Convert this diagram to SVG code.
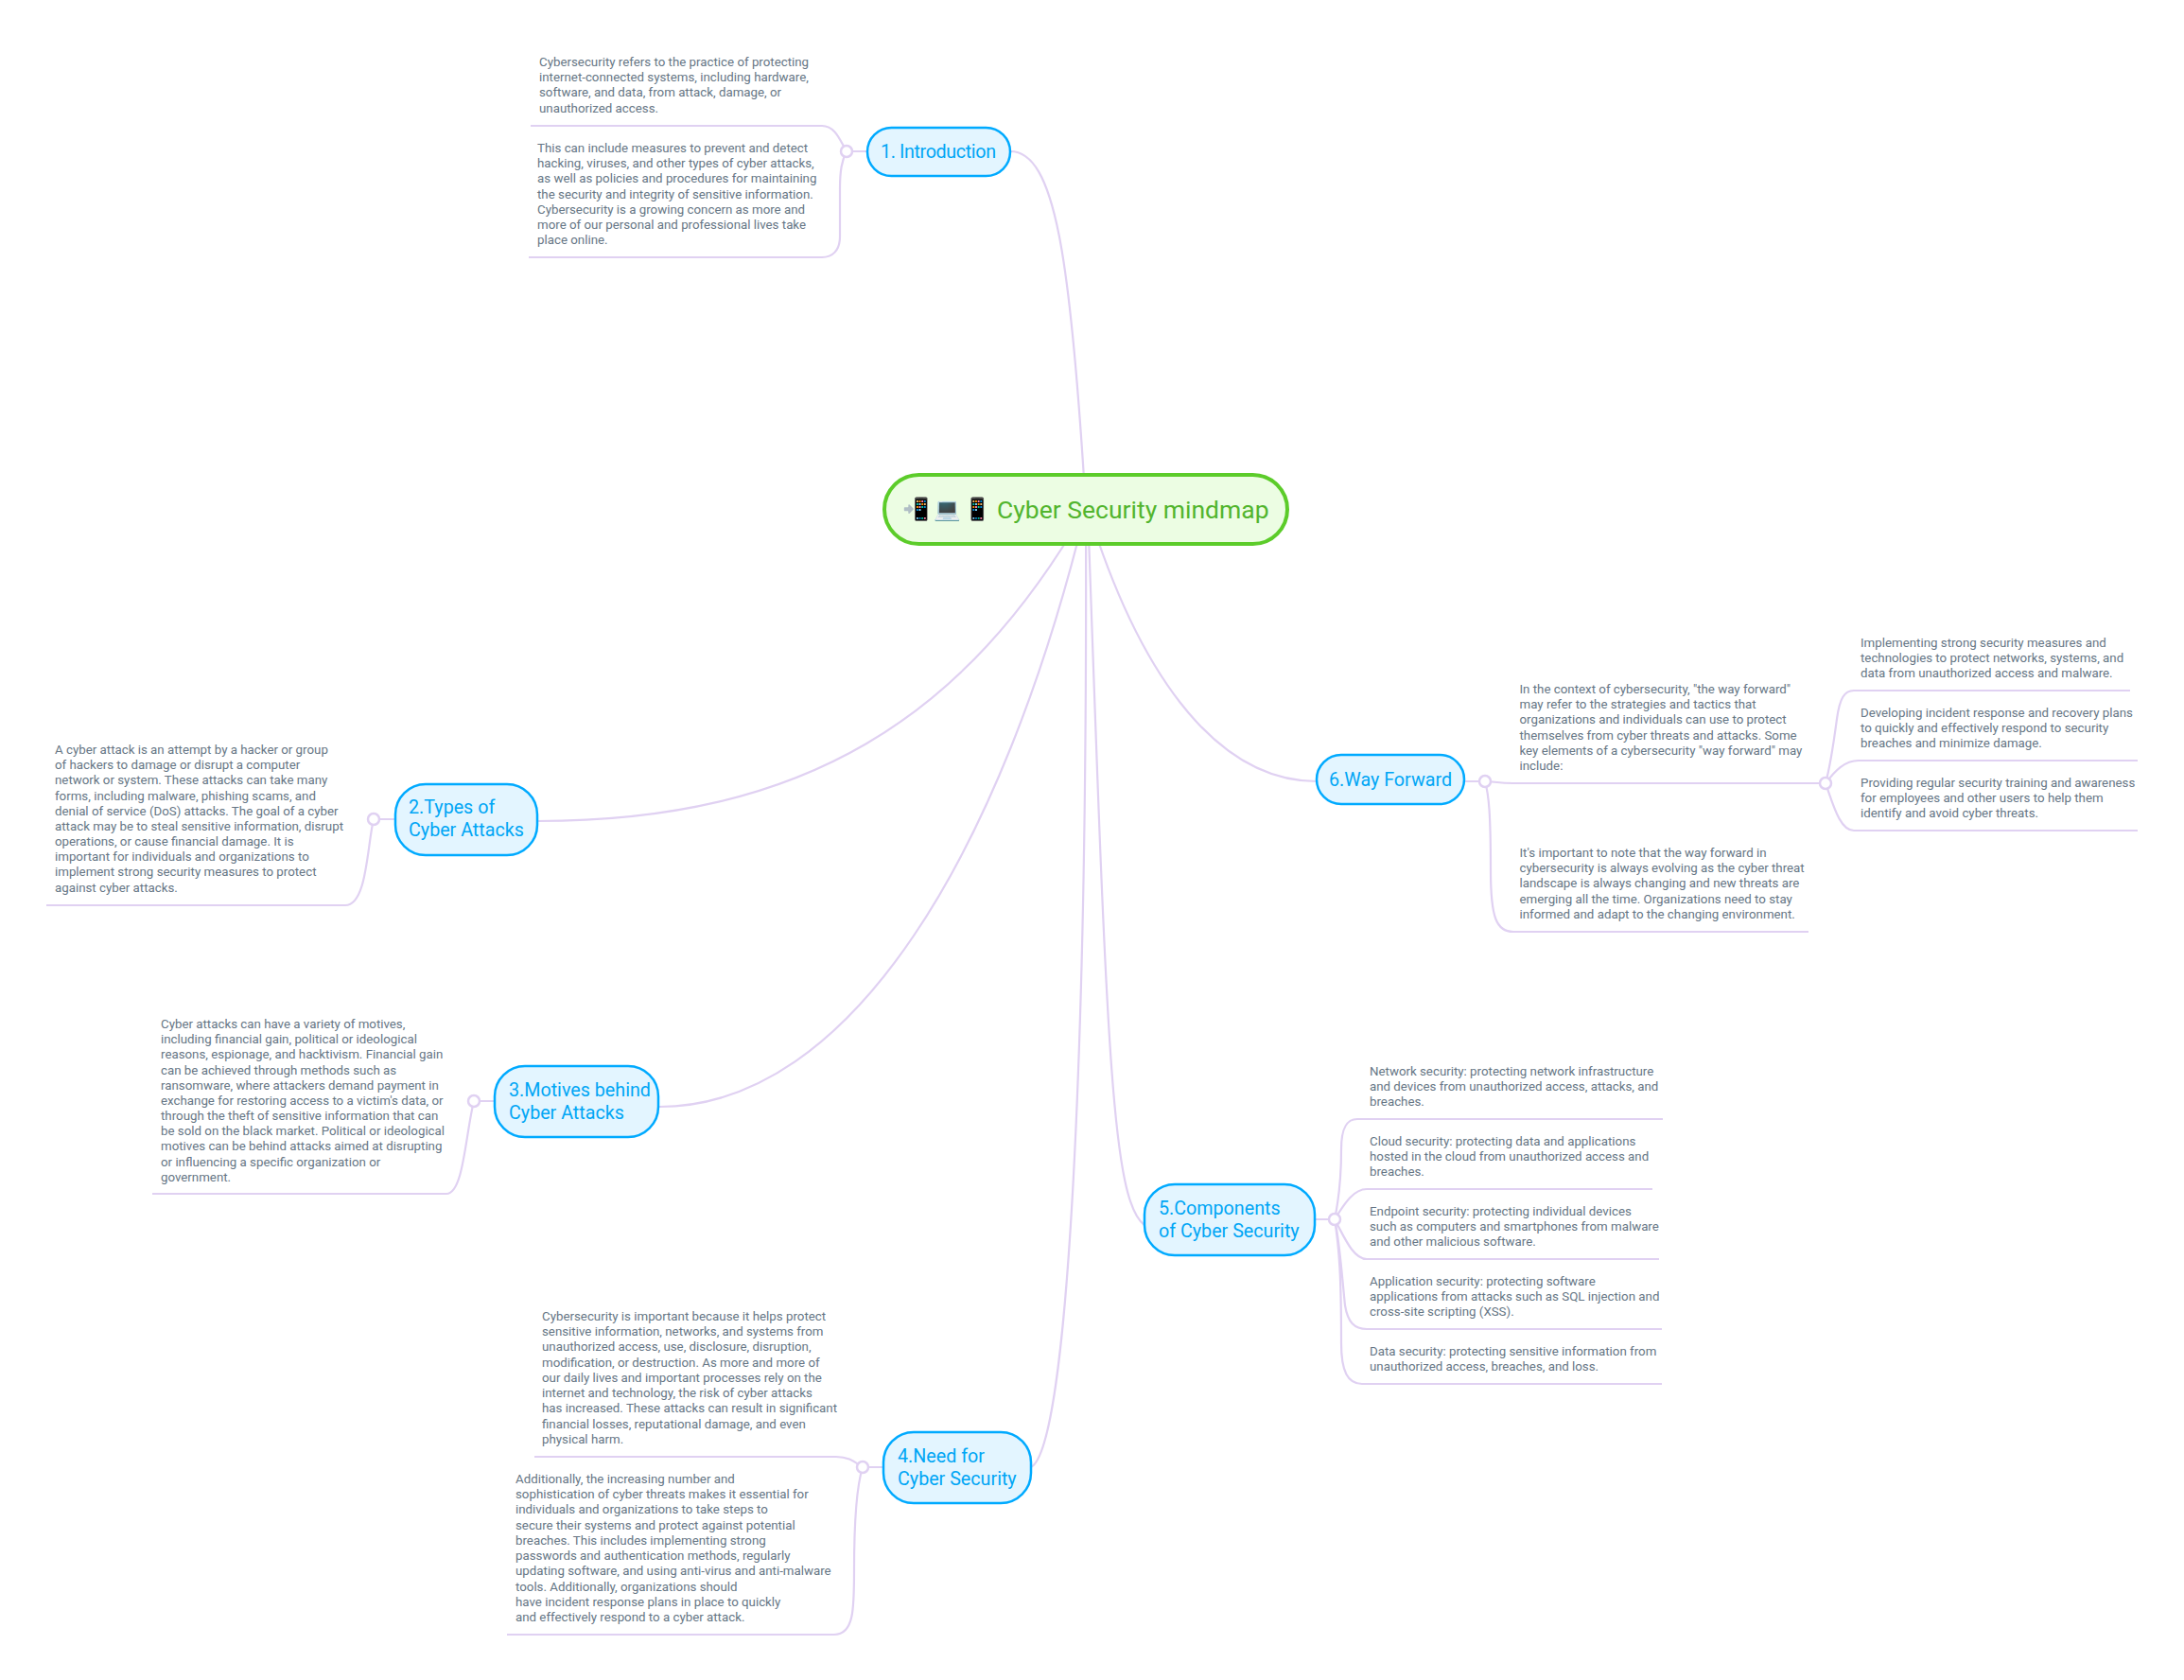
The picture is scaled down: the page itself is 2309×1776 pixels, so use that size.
<svg xmlns="http://www.w3.org/2000/svg" width="2309" height="1776" viewBox="0 0 2309 1776">
<style>
text{font-family:"Roboto","Noto Sans","Liberation Sans",sans-serif}
.t{font-size:13.3px;fill:#667685}
.m{font-size:19.7px;fill:#00a6f5}
.n{fill:#e3f5ff;stroke:#00aaff;stroke-width:2.5}
.c{fill:none;stroke:#e0d1f2;stroke-width:2.2}
.d{fill:#fff;stroke:#e0d1f2;stroke-width:2.5}
.e{font-size:23px;text-anchor:middle}
</style>
<rect width="2309" height="1776" fill="#fff"/>
<g id="connectors">
<path class="c" d="M1068 160C1115 160 1132 270 1148 538"/>
<path class="c" d="M568 868C850 868 1020 760 1148 538"/>
<path class="c" d="M697 1170C900 1170 1060 900 1148 538"/>
<path class="c" d="M1090 1551C1130 1530 1150 1100 1148 538"/>
<path class="c" d="M1210 1295C1175 1270 1170 1100 1150 538"/>
<path class="c" d="M1392 826C1280 826 1200 700 1150 538"/>
<path class="c" d="M917 160L901 160M895 160C888 148 883 133 869 133L561 133M895 160C890 170 888 180 888 200L888 250C888 265 880 272 869 272L559 272"/>
<path class="c" d="M417 866L401 866M395 866C388 895 388 957 365 957L49 957"/>
<path class="c" d="M523 1164L507 1164M501 1164C492 1200 490 1262 472 1262L161 1262"/>
<path class="c" d="M934 1551L918 1551M912 1551C904 1546 898 1540 884 1540L565 1540M912 1551C906 1570 903 1600 903 1660C903 1700 903 1728 882 1728L536 1728"/>
<path class="c" d="M1390 1289L1405 1289M1411 1289C1415 1270 1418 1250 1418 1215C1418 1190 1425 1183 1435 1183L1758 1183M1411 1289C1420 1275 1430 1257 1445 1257L1747 1257M1411 1289C1420 1305 1430 1331 1445 1331L1754 1331M1411 1289C1416 1310 1418 1340 1422 1380C1425 1398 1432 1405 1445 1405L1757 1405M1411 1289C1416 1320 1418 1350 1418 1420C1418 1450 1425 1463 1440 1463L1757 1463"/>
<path class="c" d="M1548 826L1564 826M1570 826C1578 826 1585 828 1600 828L1930 828M1570 826C1574 840 1576 860 1576 920C1576 970 1582 985 1600 985L1912 985"/>
<path class="c" d="M1930 828C1935 810 1938 790 1942 760C1945 738 1950 730 1960 730L2252 730M1930 828C1940 815 1950 804 1965 804L2260 804M1930 828C1938 850 1945 878 1960 878L2260 878"/>
<circle class="d" cx="895" cy="160" r="6"/>
<circle class="d" cx="395" cy="866" r="6"/>
<circle class="d" cx="501" cy="1164" r="6"/>
<circle class="d" cx="912" cy="1551" r="6"/>
<circle class="d" cx="1411" cy="1289" r="6"/>
<circle class="d" cx="1570" cy="826" r="6"/>
<circle class="d" cx="1930" cy="828" r="6"/>
</g>
<g id="root">
<rect x="935" y="502" width="426" height="73" rx="36.5" fill="#ecfde3" stroke="#5ccc2a" stroke-width="4"/>
<text class="e" x="968" y="546">📲</text>
<text class="e" x="1001" y="546">💻</text>
<text class="e" x="1033" y="546">📱</text>
<text x="1054" y="548" font-size="26.5" fill="#52b52e">Cyber Security mindmap</text>
</g>
<g id="node1">
<rect class="n" x="917" y="135" width="151" height="51" rx="25.500"/>
<text class="m" x="931" y="166.500" textLength="122">1. Introduction</text>
</g>
<g id="node2">
<rect class="n" x="418" y="829" width="150" height="75" rx="32"/>
<text class="m"><tspan x="432" y="860">2.Types of</tspan><tspan x="432" y="884">Cyber Attacks</tspan></text>
</g>
<g id="node3">
<rect class="n" x="523" y="1127" width="173" height="75" rx="32"/>
<text class="m"><tspan x="538" y="1159">3.Motives behind</tspan><tspan x="538" y="1183">Cyber Attacks</tspan></text>
</g>
<g id="node4">
<rect class="n" x="934" y="1514" width="156" height="75" rx="32"/>
<text class="m"><tspan x="949" y="1546">4.Need for</tspan><tspan x="949" y="1570">Cyber Security</tspan></text>
</g>
<g id="node5">
<rect class="n" x="1210" y="1252" width="180" height="75" rx="32"/>
<text class="m"><tspan x="1225" y="1284">5.Components</tspan><tspan x="1225" y="1308">of Cyber Security</tspan></text>
</g>
<g id="node6">
<rect class="n" x="1392" y="798" width="156" height="52" rx="26"/>
<text class="m" x="1405" y="831">6.Way Forward</text>
</g>
<g id="leaf1a"><text class="t"><tspan x="570" y="70">Cybersecurity refers to the practice of protecting</tspan><tspan x="570" y="86">internet-connected systems, including hardware,</tspan><tspan x="570" y="102">software, and data, from attack, damage, or</tspan><tspan x="570" y="118.500">unauthorized access.</tspan></text></g>
<g id="leaf1b"><text class="t"><tspan x="568" y="161">This can include measures to prevent and detect</tspan><tspan x="568" y="177">hacking, viruses, and other types of cyber attacks,</tspan><tspan x="568" y="193">as well as policies and procedures for maintaining</tspan><tspan x="568" y="209.500">the security and integrity of sensitive information.</tspan><tspan x="568" y="225.500">Cybersecurity is a growing concern as more and</tspan><tspan x="568" y="241.500">more of our personal and professional lives take</tspan><tspan x="568" y="257.500">place online.</tspan></text></g>
<g id="leaf2"><text class="t"><tspan x="58" y="797">A cyber attack is an attempt by a hacker or group</tspan><tspan x="58" y="813">of hackers to damage or disrupt a computer</tspan><tspan x="58" y="829">network or system. These attacks can take many</tspan><tspan x="58" y="845.500">forms, including malware, phishing scams, and</tspan><tspan x="58" y="861.500">denial of service (DoS) attacks. The goal of a cyber</tspan><tspan x="58" y="877.500">attack may be to steal sensitive information, disrupt</tspan><tspan x="58" y="893.500">operations, or cause financial damage. It is</tspan><tspan x="58" y="910">important for individuals and organizations to</tspan><tspan x="58" y="926">implement strong security measures to protect</tspan><tspan x="58" y="942.500">against cyber attacks.</tspan></text></g>
<g id="leaf3"><text class="t"><tspan x="170" y="1087">Cyber attacks can have a variety of motives,</tspan><tspan x="170" y="1103">including financial gain, political or ideological</tspan><tspan x="170" y="1119">reasons, espionage, and hacktivism. Financial gain</tspan><tspan x="170" y="1135.500">can be achieved through methods such as</tspan><tspan x="170" y="1151.500">ransomware, where attackers demand payment in</tspan><tspan x="170" y="1167.500">exchange for restoring access to a victim's data, or</tspan><tspan x="170" y="1183.500">through the theft of sensitive information that can</tspan><tspan x="170" y="1200">be sold on the black market. Political or ideological</tspan><tspan x="170" y="1216">motives can be behind attacks aimed at disrupting</tspan><tspan x="170" y="1232.500">or influencing a specific organization or</tspan><tspan x="170" y="1248.500">government.</tspan></text></g>
<g id="leaf4a"><text class="t"><tspan x="573" y="1396">Cybersecurity is important because it helps protect</tspan><tspan x="573" y="1412">sensitive information, networks, and systems from</tspan><tspan x="573" y="1428">unauthorized access, use, disclosure, disruption,</tspan><tspan x="573" y="1444.500">modification, or destruction. As more and more of</tspan><tspan x="573" y="1461">our daily lives and important processes rely on the</tspan><tspan x="573" y="1477">internet and technology, the risk of cyber attacks</tspan><tspan x="573" y="1493">has increased. These attacks can result in significant</tspan><tspan x="573" y="1509.500">financial losses, reputational damage, and even</tspan><tspan x="573" y="1526">physical harm.</tspan></text></g>
<g id="leaf4b"><text class="t"><tspan x="545" y="1568">Additionally, the increasing number and</tspan><tspan x="545" y="1584">sophistication of cyber threats makes it essential for</tspan><tspan x="545" y="1600">individuals and organizations to take steps to</tspan><tspan x="545" y="1617">secure their systems and protect against potential</tspan><tspan x="545" y="1633">breaches. This includes implementing strong</tspan><tspan x="545" y="1649">passwords and authentication methods, regularly</tspan><tspan x="545" y="1665">updating software, and using anti-virus and anti-malware</tspan><tspan x="545" y="1682">tools. Additionally, organizations should</tspan><tspan x="545" y="1698">have incident response plans in place to quickly</tspan><tspan x="545" y="1714">and effectively respond to a cyber attack.</tspan></text></g>
<g id="leaf5a"><text class="t"><tspan x="1448" y="1137">Network security: protecting network infrastructure</tspan><tspan x="1448" y="1153">and devices from unauthorized access, attacks, and</tspan><tspan x="1448" y="1169">breaches.</tspan></text></g>
<g id="leaf5b"><text class="t"><tspan x="1448" y="1211">Cloud security: protecting data and applications</tspan><tspan x="1448" y="1227">hosted in the cloud from unauthorized access and</tspan><tspan x="1448" y="1243">breaches.</tspan></text></g>
<g id="leaf5c"><text class="t"><tspan x="1448" y="1285">Endpoint security: protecting individual devices</tspan><tspan x="1448" y="1301">such as computers and smartphones from malware</tspan><tspan x="1448" y="1317">and other malicious software.</tspan></text></g>
<g id="leaf5d"><text class="t"><tspan x="1448" y="1359">Application security: protecting software</tspan><tspan x="1448" y="1375">applications from attacks such as SQL injection and</tspan><tspan x="1448" y="1391">cross-site scripting (XSS).</tspan></text></g>
<g id="leaf5e"><text class="t"><tspan x="1448" y="1433">Data security: protecting sensitive information from</tspan><tspan x="1448" y="1449">unauthorized access, breaches, and loss.</tspan></text></g>
<g id="leaf6a"><text class="t"><tspan x="1606.500" y="733">In the context of cybersecurity, "the way forward"</tspan><tspan x="1606.500" y="749">may refer to the strategies and tactics that</tspan><tspan x="1606.500" y="765">organizations and individuals can use to protect</tspan><tspan x="1606.500" y="782">themselves from cyber threats and attacks. Some</tspan><tspan x="1606.500" y="798">key elements of a cybersecurity "way forward" may</tspan><tspan x="1606.500" y="814">include:</tspan></text></g>
<g id="leaf6b"><text class="t"><tspan x="1606.500" y="906">It's important to note that the way forward in</tspan><tspan x="1606.500" y="922">cybersecurity is always evolving as the cyber threat</tspan><tspan x="1606.500" y="938">landscape is always changing and new threats are</tspan><tspan x="1606.500" y="955">emerging all the time. Organizations need to stay</tspan><tspan x="1606.500" y="971">informed and adapt to the changing environment.</tspan></text></g>
<g id="leaf6c"><text class="t"><tspan x="1967" y="684">Implementing strong security measures and</tspan><tspan x="1967" y="700">technologies to protect networks, systems, and</tspan><tspan x="1967" y="716">data from unauthorized access and malware.</tspan></text></g>
<g id="leaf6d"><text class="t"><tspan x="1967" y="758">Developing incident response and recovery plans</tspan><tspan x="1967" y="774">to quickly and effectively respond to security</tspan><tspan x="1967" y="790">breaches and minimize damage.</tspan></text></g>
<g id="leaf6e"><text class="t"><tspan x="1967" y="832">Providing regular security training and awareness</tspan><tspan x="1967" y="848">for employees and other users to help them</tspan><tspan x="1967" y="864">identify and avoid cyber threats.</tspan></text></g>
</svg>
